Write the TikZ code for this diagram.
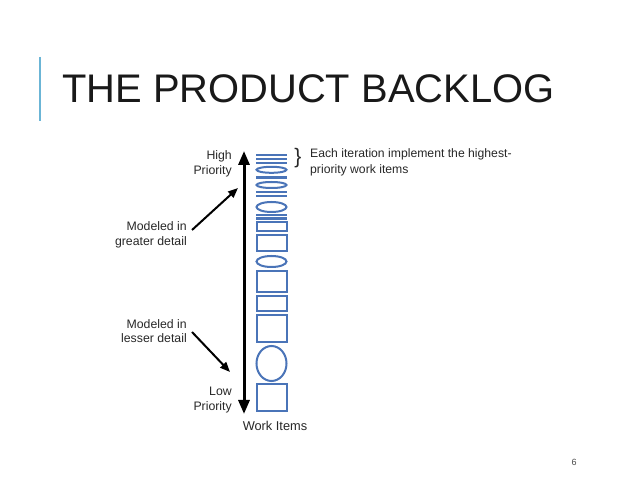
\documentclass[tikz,border=0pt]{standalone}
\usepackage{fontspec}
\setmainfont{Liberation Sans}
\usetikzlibrary{arrows.meta}
\definecolor{itemblue}{RGB}{74,116,184}
\definecolor{barblue}{RGB}{107,181,214}
\definecolor{labelgrey}{RGB}{40,40,40}
\tikzset{
  itemshape/.style={draw=itemblue, line width=2pt},
  itemline/.style={draw=itemblue, line width=2.3pt},
  lbl/.style={inner sep=0pt, text=labelgrey, font=\fontsize{12.3}{14.5}\selectfont},
  bigarrow/.style={line width=3pt, black, {Triangle[length=14pt,width=11pt]}-{Triangle[length=14pt,width=11pt]}},
  sidearrow/.style={line width=2pt, black, -{Triangle[length=10pt,width=8pt]}}
}
\begin{document}
\begin{tikzpicture}[x=1pt,y=-1pt]
\useasboundingbox[fill=white] (0,0) rectangle (638,478);
% title
\draw[barblue, line width=1.8pt] (40,57) -- (40,121);
\node[anchor=base west, inner sep=0pt, font=\fontsize{39.9}{44}\selectfont, text=black!90] (title) at (62,103) {THE PRODUCT BACKLOG};
% main double arrow
\coordinate (top) at (244,151);
\coordinate (bottom) at (244,414);
\draw[bigarrow] (bottom) -- (top);
% labels
\node[lbl, align=right, anchor=east] (high) at (232,164) {High\\Priority};
\node[lbl, align=right, anchor=east] (low) at (232,400) {Low\\Priority};
\node[lbl, align=right, anchor=east] (greater) at (187,235) {Modeled in\\greater detail};
\node[lbl, align=right, anchor=east] (lesser) at (187,331) {Modeled in\\lesser detail};
\node[lbl, font=\fontsize{12.8}{14}\selectfont] (work) at (275,426) {Work Items};
\node[lbl, font=\fontsize{21}{21}\selectfont] (brace) at (298,158) {\}};
\node[lbl, anchor=base west, font=\fontsize{12.2}{14}\selectfont] (iterA) at (310,157.5) {Each iteration implement the highest-};
\node[lbl, anchor=base west, font=\fontsize{12.2}{14}\selectfont] (iterB) at (310,173.5) {priority work items};
% side arrows
\coordinate (gA) at (192,230);
\coordinate (gB) at (238,188);
\draw[sidearrow] (gA) -- (gB);
\coordinate (lA) at (192,332);
\coordinate (lB) at (230,372);
\draw[sidearrow] (lA) -- (lB);
% work items stack
\foreach \y in {155,159,163} \draw[itemline] (256,\y) -- (287,\y);
\draw[itemshape] (271.5,169.8) ellipse (15pt and 3pt);
\draw[itemline] (256,177.5) -- (287,177.5);
\draw[itemshape] (271.5,185) ellipse (15pt and 3pt);
\foreach \y in {192,196} \draw[itemline] (256,\y) -- (287,\y);
\draw[itemshape] (271.5,207) ellipse (15pt and 5pt);
\foreach \y in {215,218.5} \draw[itemline] (256,\y) -- (287,\y);
\draw[itemshape] (256.5,222) rectangle (286.5,231);
\draw[itemshape] (256.5,235) rectangle (286.5,251);
\draw[itemshape] (271.5,261.5) ellipse (15pt and 5.5pt);
\draw[itemshape] (256.5,271) rectangle (286.5,292);
\draw[itemshape] (256.5,296) rectangle (286.5,311);
\draw[itemshape] (256.5,315) rectangle (286.5,342);
\draw[itemshape] (271.5,363.5) ellipse (15pt and 17.5pt);
\draw[itemshape] (256.5,384) rectangle (286.5,411);
% page number
\node[inner sep=0pt, font=\fontsize{9}{10}\selectfont, text=black!70] (pnum) at (574,462) {6};
\end{tikzpicture}
\end{document}
